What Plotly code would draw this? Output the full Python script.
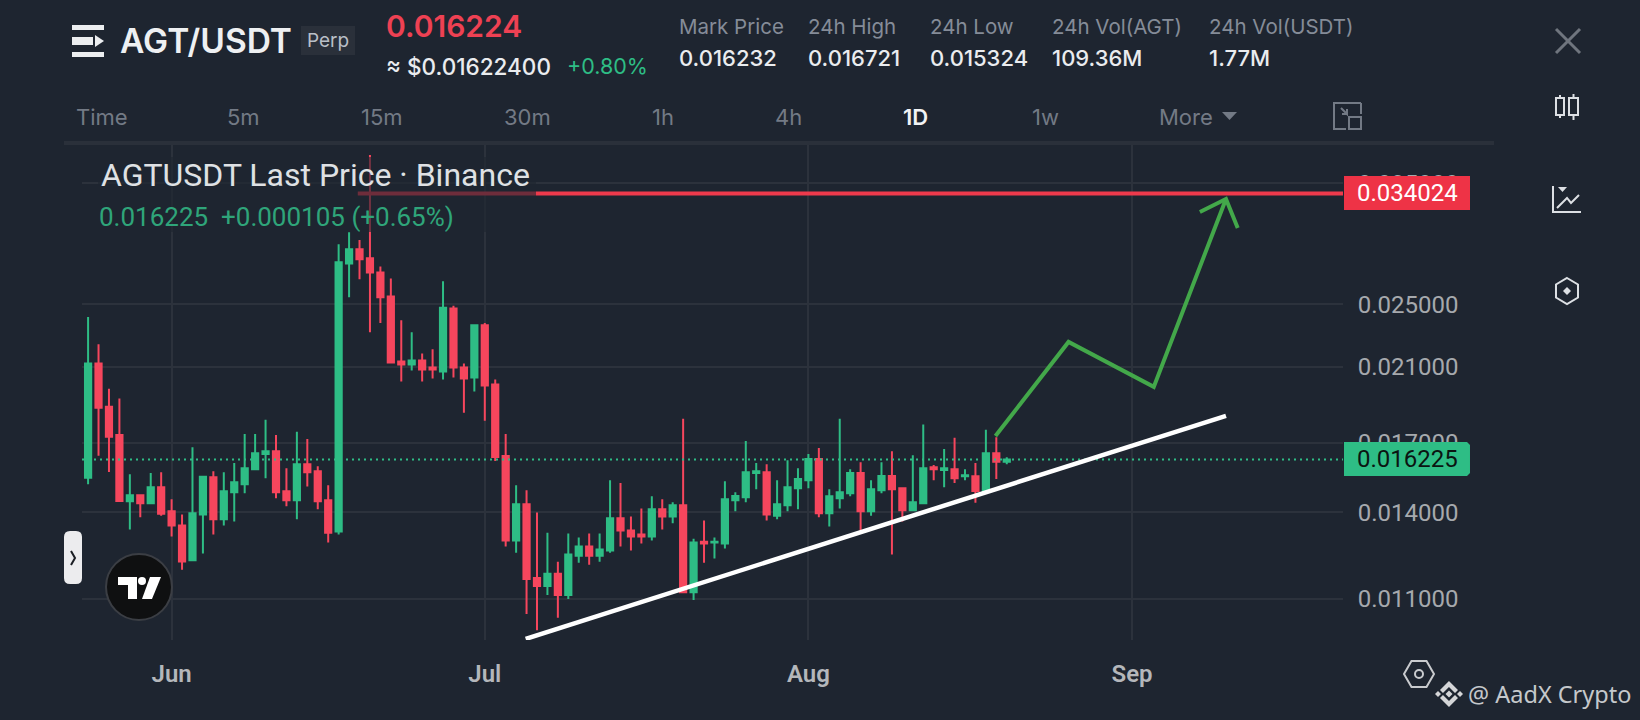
import pandas as pd
import plotly.graph_objects as go

BG = "#1e2530"
GRID = "#2c323c"
UP = "#2ebd85"
DOWN = "#f6465d"
PEN_GREEN = "#43a84a"

# plot area in page pixels
LEFT, RIGHT, TOP, BOTTOM = 82, 1343, 145, 640

# daily candles, first one is cut by the left edge
dates = pd.date_range("2025-05-23", periods=90)
opens = [
    0.01221, 0.01542, 0.0212, 0.01879, 0.01737, 0.01444, 0.01468, 0.01436, 0.01501, 0.01404,
    0.0135, 0.01225, 0.01392, 0.01544, 0.01373, 0.01481, 0.01514, 0.01579, 0.01647, 0.0166,
    0.01485, 0.01448, 0.01601, 0.0157, 0.01448, 0.01327, 0.028, 0.02913, 0.02841, 0.02732,
    0.02555, 0.02132, 0.02114, 0.02138, 0.02096, 0.02073, 0.0247, 0.02096, 0.02039, 0.02358,
    0.01999, 0.01638, 0.01294, 0.01432, 0.01166, 0.0114, 0.0118, 0.01112, 0.01241, 0.01273,
    0.01241, 0.01259, 0.01377, 0.01331, 0.01316, 0.01309, 0.01412, 0.01384, 0.01428, 0.01121,
    0.0129, 0.01287, 0.01284, 0.01448, 0.0146, 0.01562, 0.01566, 0.01387, 0.01428, 0.01497,
    0.01531, 0.01624, 0.01397, 0.01456, 0.01477, 0.01562, 0.01404, 0.01489, 0.01549, 0.01497,
    0.01408, 0.01436, 0.01588, 0.01575, 0.01579, 0.01548, 0.01548, 0.01486, 0.01651, 0.01612,
]
highs = [
    0.0155, 0.02412, 0.02236, 0.01976, 0.01922, 0.01557, 0.01472, 0.01562, 0.01566, 0.01452,
    0.01392, 0.01679, 0.0155, 0.0157, 0.01566, 0.01606, 0.01742, 0.01742, 0.01812, 0.01737,
    0.01583, 0.01752, 0.01718, 0.01592, 0.0151, 0.02955, 0.03055, 0.0299, 0.0379, 0.02778,
    0.02686, 0.02391, 0.02313, 0.0218, 0.02205, 0.02665, 0.0249, 0.0212, 0.02358, 0.02372,
    0.02027, 0.01742, 0.0151, 0.01489, 0.01399, 0.01323, 0.0122, 0.0132, 0.01305, 0.0132,
    0.0132, 0.01531, 0.01519, 0.01384, 0.01415, 0.01464, 0.01452, 0.0144, 0.01817, 0.01301,
    0.01369, 0.01305, 0.01527, 0.01481, 0.01708, 0.01606, 0.01601, 0.01531, 0.01619, 0.01583,
    0.01647, 0.01675, 0.01493, 0.01817, 0.01579, 0.0161, 0.01531, 0.0161, 0.0166, 0.01497,
    0.01642, 0.01788, 0.01597, 0.0167, 0.01723, 0.01579, 0.01606, 0.01762, 0.01726, 0.01632,
]
lows = [
    0.01221, 0.01514, 0.01639, 0.01567, 0.01445, 0.01335, 0.01381, 0.01432, 0.01387, 0.01309,
    0.01193, 0.01225, 0.01248, 0.01316, 0.0135, 0.01365, 0.01477, 0.01579, 0.0154, 0.01456,
    0.01424, 0.01373, 0.01505, 0.01412, 0.01287, 0.01316, 0.0255, 0.0268, 0.02313, 0.02372,
    0.0212, 0.02016, 0.02079, 0.02016, 0.02033, 0.02027, 0.02039, 0.01848, 0.0196, 0.01807,
    0.01615, 0.01273, 0.01251, 0.01055, 0.01008, 0.01112, 0.01044, 0.011, 0.01217, 0.0121,
    0.0122, 0.01251, 0.01273, 0.01259, 0.01284, 0.01294, 0.01335, 0.01358, 0.01121, 0.01097,
    0.01217, 0.01231, 0.01266, 0.01404, 0.0144, 0.01493, 0.01369, 0.01373, 0.01404, 0.01412,
    0.01497, 0.01381, 0.01346, 0.01415, 0.01464, 0.01327, 0.01387, 0.01477, 0.01245, 0.01365,
    0.01408, 0.01436, 0.01531, 0.01501, 0.01519, 0.01531, 0.01438, 0.01481, 0.01536, 0.01601,
]
closes = [
    0.0155, 0.0212, 0.01874, 0.01728, 0.01445, 0.01468, 0.01436, 0.01501, 0.01395, 0.0135,
    0.01221, 0.01397, 0.01546, 0.01373, 0.01485, 0.01523, 0.01583, 0.01651, 0.0166, 0.01481,
    0.01448, 0.01601, 0.01566, 0.01444, 0.01323, 0.0281, 0.02913, 0.02833, 0.02731, 0.0255,
    0.02126, 0.02114, 0.02138, 0.02084, 0.02084, 0.02475, 0.02096, 0.02033, 0.02358, 0.01993,
    0.01633, 0.01294, 0.01432, 0.01163, 0.0114, 0.0118, 0.01112, 0.01245, 0.01273, 0.01241,
    0.01262, 0.01377, 0.01331, 0.01309, 0.01309, 0.01412, 0.01384, 0.01428, 0.01121, 0.01287,
    0.01284, 0.0129, 0.01452, 0.01465, 0.01566, 0.0157, 0.01392, 0.01432, 0.01501, 0.01536,
    0.01624, 0.01397, 0.01464, 0.01481, 0.01562, 0.01404, 0.01493, 0.01549, 0.01493, 0.01408,
    0.0144, 0.01583, 0.01579, 0.01583, 0.0154, 0.01553, 0.01486, 0.01651, 0.01612, 0.016225,
]

# tick labels
price_ticks = [0.011, 0.014, 0.017, 0.021, 0.025, 0.035]
price_labels = ["0.011000", "0.014000", "0.017000", "0.021000", "0.025000", "0.035000"]
month_ticks = ["2025-06-01", "2025-07-01", "2025-08-01", "2025-09-01"]
month_labels = ["Jun", "Jul", "Aug", "Sep"]

# horizontal price levels
last_price = 0.016225
target_price = 0.034024
last_line_x = ["2025-05-23 10:00", "2025-09-21 05:00"]
target_line_x = ["2025-06-18 20:00", "2025-09-21 05:00"]

# hand drawn lines on top of the chart
trend_x = ["2025-07-04 22:00", "2025-09-10 00:00"]
trend_y = [0.00984, 0.01832]
path_x = ["2025-08-18 22:00", "2025-08-25 22:00", "2025-09-03 02:00", "2025-09-10 00:00"]
path_y = [0.01732, 0.02251, 0.01986, 0.03352]
arrow_x = ["2025-09-07 12:00", "2025-09-10 00:00", "2025-09-11 03:00"]
arrow_y = [0.03233, 0.03352, 0.03092]

# header texts
stat_names = ["Mark Price", "24h High", "24h Low", "24h Vol(AGT)", "24h Vol(USDT)"]
stat_values = ["0.016232", "0.016721", "0.015324", "109.36M", "1.77M"]
stat_x = [678, 807, 929, 1051, 1208]
tab_names = ["Time", "5m", "15m", "30m", "1h", "4h", "1D", "1w", "More"]
tab_x = [102, 243, 382, 527, 663, 788, 915, 1045, 1186]


def px(x):
    return (x - LEFT) / (RIGHT - LEFT)


def py(y):
    return (BOTTOM - y) / (BOTTOM - TOP)


annotations = []
shapes = []


def label(x, y, text, size, color, anchor="left", weight=400, family="Inter"):
    annotations.append(dict(
        x=px(x), y=py(y), xref="paper", yref="paper", text=text, showarrow=False,
        xanchor=anchor, yanchor="middle", borderpad=0,
        font=dict(size=size, color=color, family=family, weight=weight),
    ))


def rect(x0, y0, x1, y1, fill, layer="above"):
    shapes.append(dict(
        type="rect", xref="paper", yref="paper", layer=layer,
        x0=px(x0), y0=py(y0), x1=px(x1), y1=py(y1), fillcolor=fill, line_width=0,
    ))


def poly(points, color=None, width=2, fill=None, close=False):
    d = "M" + " L".join(f"{px(a):.5f},{py(b):.5f}" for a, b in points)
    if close:
        d += " Z"
    shapes.append(dict(
        type="path", xref="paper", yref="paper", layer="above", path=d,
        line=dict(color=color or "rgba(0,0,0,0)", width=width if color else 0),
        fillcolor=fill or "rgba(0,0,0,0)",
    ))


def circle(cx, cy, r, fill=None, color=None, width=2):
    shapes.append(dict(
        type="circle", xref="paper", yref="paper", layer="above",
        x0=px(cx - r), y0=py(cy - r), x1=px(cx + r), y1=py(cy + r),
        fillcolor=fill or "rgba(0,0,0,0)",
        line=dict(color=color or "rgba(0,0,0,0)", width=width if color else 0),
    ))


fig = go.Figure()
fig.add_trace(go.Scatter(
    x=last_line_x, y=[last_price, last_price], mode="lines", hoverinfo="skip",
    line=dict(color=UP, width=2, dash="2px,4px"),
))
fig.add_trace(go.Candlestick(
    x=dates, open=opens, high=highs, low=lows, close=closes,
    increasing=dict(line=dict(color=UP, width=2), fillcolor=UP),
    decreasing=dict(line=dict(color=DOWN, width=2), fillcolor=DOWN),
    whiskerwidth=0,
))
fig.add_trace(go.Scatter(
    x=target_line_x, y=[target_price, target_price], mode="lines", hoverinfo="skip",
    line=dict(color="#ee3a4c", width=4),
))
fig.add_trace(go.Scatter(
    x=trend_x, y=trend_y, mode="lines", hoverinfo="skip",
    line=dict(color="#ffffff", width=4.5),
))
fig.add_trace(go.Scatter(
    x=path_x, y=path_y, mode="lines", hoverinfo="skip",
    line=dict(color=PEN_GREEN, width=4),
))
fig.add_trace(go.Scatter(
    x=arrow_x, y=arrow_y, mode="lines", hoverinfo="skip",
    line=dict(color=PEN_GREEN, width=4),
))

# legend block dims whatever passes behind it
rect(98, 157, 536, 232, "rgba(30,37,48,0.62)")
label(100, 175, "AGTUSDT Last Price · Binance", 32, "#dfe1e4", family="Roboto")
label(98, 217, "0.016225  +0.000105 (+0.65%)", 26, "#2fa57a", family="Roboto")

# price tags on the axis
rect(1344, 176, 1470, 210, "#ee3346")
label(1407, 193, "0.034024", 24, "#ffffff", anchor="center", family="Roboto")
poly([(1344, 442), (1467, 442), (1470, 445), (1470, 473), (1467, 476), (1344, 476)], fill=UP, close=True)
label(1407, 459, "0.016225", 24, "#0b1512", anchor="center", family="Roboto")

# header
for y in (27.5, 54.5):
    rect(72, y - 2.5, 104, y + 2.5, "#eceef0")
rect(72, 37, 93, 45, "#eceef0")
poly([(95, 35), (104, 41), (95, 47)], fill="#eceef0", close=True)
label(119, 41, "AGT/USDT", 33.5, "#eef0f2", weight=600)
rect(301, 26, 355, 55, "#2a303a")
label(328, 41, "Perp", 19, "#b9bfc7", anchor="center")
label(385, 26, "0.016224", 30, "#ee4153", weight=600)
label(385, 66, "≈ $0.01622400", 22.5, "#eaecef", weight=500)
label(566, 66, "+0.80%", 21.5, UP)
for x, name, value in zip(stat_x, stat_names, stat_values):
    label(x, 26, name, 20.5, "#858c98")
    label(x, 58, value, 22, "#eaecef", weight=500)

# interval tabs
for x, name in zip(tab_x, tab_names):
    if name == "1D":
        label(x, 117, name, 22, "#f2f3f5", anchor="center", weight=600)
    else:
        label(x, 117, name, 22, "#737a85", anchor="center")
poly([(1222, 112), (1237, 112), (1229.5, 120)], fill="#737a85", close=True)
poly([(1361, 103), (1334, 103), (1334, 129), (1346, 129)], color="#737a85", width=2)
poly([(1361, 103), (1361, 114)], color="#737a85", width=2)
poly([(1349, 117), (1361, 117), (1361, 129), (1349, 129)], color="#737a85", width=2, close=True)
poly([(1341, 108), (1347, 114), (1347, 109), (1347, 114), (1342, 114)], color="#737a85", width=2)
rect(64, 141, 1494, 145, "#2a303a")

# right side icons
poly([(1556, 29), (1580, 53)], color="#6f757e", width=3)
poly([(1580, 29), (1556, 53)], color="#6f757e", width=3)
poly([(1556, 98), (1564, 98), (1564, 115), (1556, 115)], color="#dde0e4", close=True)
poly([(1560, 95), (1560, 98)], color="#dde0e4")
poly([(1560, 115), (1560, 118)], color="#dde0e4")
poly([(1569, 98), (1578, 98), (1578, 115), (1569, 115)], color="#dde0e4", close=True)
poly([(1573.5, 94), (1573.5, 98)], color="#dde0e4")
poly([(1573.5, 115), (1573.5, 120)], color="#dde0e4")
poly([(1553, 186), (1553, 212), (1581, 212)], color="#dde0e4")
poly([(1558, 187), (1567, 187), (1562.5, 192)], fill="#dde0e4", close=True)
poly([(1557, 208), (1567, 198), (1571, 203), (1579, 195)], color="#dde0e4")
poly([(1567, 278), (1578, 284.5), (1578, 297.5), (1567, 304), (1556, 297.5), (1556, 284.5)], color="#dde0e4", close=True)
poly([(1567, 287), (1571, 291), (1567, 295), (1563, 291)], fill="#dde0e4", close=True)

# left handle and logo
shapes.append(dict(
    type="path", xref="paper", yref="paper", layer="above",
    path=f"M{px(70)},{py(531)} L{px(76)},{py(531)} Q{px(82)},{py(531)} {px(82)},{py(537)} "
         f"L{px(82)},{py(578)} Q{px(82)},{py(584)} {px(76)},{py(584)} L{px(70)},{py(584)} "
         f"Q{px(64)},{py(584)} {px(64)},{py(578)} L{px(64)},{py(537)} Q{px(64)},{py(531)} {px(70)},{py(531)} Z",
    fillcolor="#ececee", line_width=0,
))
poly([(71, 551), (75, 558), (71, 565)], color="#1b1e24", width=2)
circle(139, 587, 33, fill="#0f1011", color="#3b3e44", width=2)
poly([(118, 577), (137, 577), (137, 599), (128, 599), (128, 585), (118, 585)], fill="#ffffff", close=True)
circle(142, 581, 4, fill="#ffffff")
poly([(150, 577), (161, 577), (152, 599), (142, 599)], fill="#ffffff", close=True)

# watermark
poly([(1404, 674), (1411.5, 661), (1426.5, 661), (1434, 674), (1426.5, 687), (1411.5, 687)], color="#c9cbce", close=True)
circle(1419, 674, 4, color="#c9cbce")
for cx, cy, r in [(1449, 694, 3.5), (1438, 694, 3), (1460, 694, 3)]:
    poly([(cx, cy - r), (cx + r, cy), (cx, cy + r), (cx - r, cy)], fill="#d5d6d8", close=True)
poly([(1449, 681), (1458, 690), (1455, 693), (1449, 687), (1443, 693), (1440, 690)], fill="#d5d6d8", close=True)
poly([(1449, 707), (1458, 698), (1455, 695), (1449, 701), (1443, 695), (1440, 698)], fill="#d5d6d8", close=True)
label(1467, 694, "@ AadX Crypto", 23.5, "#c5c8cb", family="Noto Sans")

fig.update_layout(
    width=1640, height=720, autosize=False,
    margin=dict(l=LEFT, r=1640 - RIGHT, t=TOP, b=720 - BOTTOM),
    paper_bgcolor=BG, plot_bgcolor=BG,
    showlegend=False, boxgap=0.15,
    annotations=annotations, shapes=shapes,
    font=dict(family="Roboto"),
)
fig.update_xaxes(
    type="date", range=["2025-05-23 10:00", "2025-09-21 05:00"],
    rangeslider_visible=False,
    tickmode="array", tickvals=month_ticks, ticktext=month_labels,
    showgrid=True, gridcolor=GRID, gridwidth=2, zeroline=False, showline=False,
    ticks="outside", ticklen=12, tickcolor=BG,
    tickfont=dict(size=24, color="#b4b7bb", family="Roboto", weight=600),
)
fig.update_yaxes(
    type="log", range=[-2.0083, -1.4094], side="right",
    tickmode="array", tickvals=price_ticks, ticktext=price_labels,
    showgrid=True, gridcolor=GRID, gridwidth=2, zeroline=False, showline=False,
    ticks="outside", ticklen=9, tickcolor=BG,
    tickfont=dict(size=24, color="#a6a9ad", family="Roboto"),
)

fig.write_html(
    "out.html",
    config={"displayModeBar": False},
    post_script="document.body.style.margin='0'; document.body.style.background='#1e2530';",
)
